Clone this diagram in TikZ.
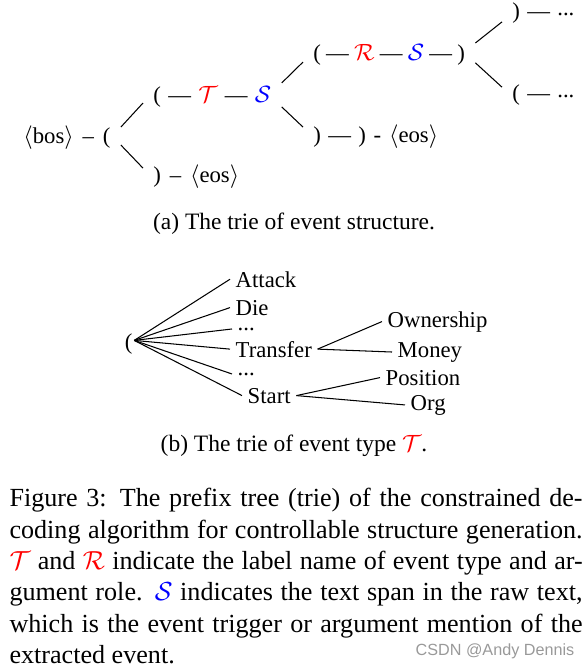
\documentclass[tikz,border=0pt]{standalone}
\usepackage{amsmath}
\usepackage{amssymb}
\usepackage{fontspec}
\setmainfont{Liberation Serif}
\newfontfamily\marksans{Liberation Sans}
\usepackage{tikz}

\newcommand{\ldsh}{\hspace{2.8pt}---\hspace{2.8pt}}
\newcommand{\ndsh}{\hspace{2pt}---\hspace{2pt}}
\newcommand{\sdsh}{\hspace{3.4pt}--\hspace{3.4pt}}
\newcommand{\evT}{\textcolor{red}{$\mathcal{T}$}}
\newcommand{\evR}{\textcolor{red}{$\mathcal{R}$}}
\newcommand{\evS}{\textcolor{blue}{$\mathcal{S}$}}

\begin{document}
\begin{tikzpicture}[x=0.383pt,y=-0.383pt,
		tok/.style={anchor=west,inner xsep=3.8pt,inner ysep=1pt,font=\fontsize{8.7}{10}\selectfont},
		typ/.style={anchor=base west,inner xsep=2pt,inner ysep=0pt,font=\fontsize{8.7}{10}\selectfont},
		sub/.style={font=\fontsize{9}{11}\selectfont}]

		\useasboundingbox (0,0) rectangle (587,669);

		\node [tok] (bos) at (13,138) {$\langle$bos$\rangle$\sdsh(};
		\node [tok] (ts) at (143,97) {(\ldsh\evT\ldsh\evS};
		\node [tok] (eosa) at (143,177) {)\sdsh$\langle$eos$\rangle$};
		\node [tok] (rs) at (303,55) {(\ndsh\evR\ndsh\evS\ndsh)};
		\node [tok] (eosb) at (303,137) {)\ldsh)\hspace{3pt}-\hspace{3pt}$\langle$eos$\rangle$};
		\node [tok] (moreup) at (502,13) {)\ldsh\raisebox{1pt}{...}};
		\node [tok] (moredown) at (502,95) {(\ldsh\raisebox{1pt}{...}};

		\foreach \a/\b/\u/\v in {bos/ts/4.2/-2.3,bos/eosa/-2.7/3.4,ts/rs/5.4/-2.7,ts/eosb/-3.8/3.8,rs/moreup/4.6/-3.4,rs/moredown/-3/3}{
				\draw ([yshift=\u pt]\a.east) -- ([yshift=\v pt]\b.west);
			}

		\node [sub] (capa) at (294,224) {(a) The trie of event structure.};

		\node [typ,inner xsep=0.5pt] (paren) at (123,349) {(};
		\node [typ] (attack) at (230,287) {Attack};
		\node [typ] (die) at (230,315) {Die};
		\node [typ] (dotsa) at (232,330) {...};
		\node [typ] (transfer) at (230,357) {Transfer};
		\node [typ] (dotsb) at (232,375) {...};
		\node [typ] (start) at (242,403) {Start};
		\node [typ] (ownership) at (382,327) {Ownership};
		\node [typ] (money) at (392,357) {Money};
		\node [typ] (position) at (380,385) {Position};
		\node [typ] (org) at (405,410) {Org};

		\foreach \t in {attack,die,dotsa,transfer,dotsb,start}{
				\draw ([yshift=1.2pt]paren.east) -- (\t.west);
			}
		\foreach \t in {ownership,money}{
				\draw (transfer.east) -- (\t.west);
			}
		\foreach \t in {position,org}{
				\draw (start.east) -- (\t.west);
			}

		\node [sub] (capb) at (294,446) {(b) The trie of event type \evT.};

		\node [anchor=north west,inner sep=0pt,text width=219.5pt,align=justify,font=\fontsize{10}{12}\selectfont] (figcap) at (9,488) {Figure 3: The prefix tree (trie) of the constrained de-\linebreak coding algorithm for controllable structure generation.\linebreak \evT\ and \evR\ indicate the label name of event type and ar-\linebreak gument role. \evS\ indicates the text span in the raw text,\linebreak which is the event trigger or argument mention of the\linebreak extracted event.};

		\node [font=\marksans\fontsize{6.2}{7}\selectfont,text=black!40] (mark) at (495,651) {CSDN @Andy Dennis};

	\end{tikzpicture}
\end{document}
